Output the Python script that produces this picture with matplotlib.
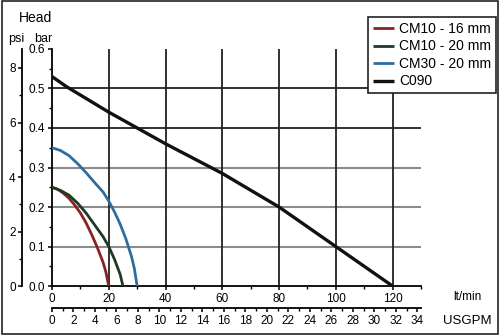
import matplotlib
matplotlib.use("Agg")
import matplotlib.pyplot as plt
from matplotlib.patches import Rectangle
from matplotlib.ticker import MultipleLocator

plt.rcParams['font.family'] = ['Liberation Sans', 'DejaVu Sans']

# Data (flow in lt/min, head in bar)
cm10_16_x = [0, 2, 4, 6, 8, 10, 12, 14, 16, 18, 19, 20]
cm10_16_y = [0.25, 0.245, 0.235, 0.222, 0.205, 0.185, 0.16, 0.13, 0.097, 0.06, 0.035, 0.0]
cm10_20_x = [0, 3, 6, 9, 12, 15, 18, 20, 22, 24, 25]
cm10_20_y = [0.25, 0.242, 0.23, 0.21, 0.185, 0.155, 0.125, 0.1, 0.068, 0.03, 0.0]
cm30_20_x = [0, 3, 6, 9, 12, 15, 18, 20, 22, 24, 26, 28, 29, 30]
cm30_20_y = [0.35, 0.343, 0.33, 0.31, 0.287, 0.262, 0.238, 0.215, 0.188, 0.157, 0.12, 0.075, 0.045, 0.0]
c090_x = [0, 5, 20, 30, 40, 60, 80, 100, 120]
c090_y = [0.53, 0.505, 0.44, 0.40, 0.36, 0.285, 0.20, 0.10, 0.0]

series_names = ["CM10 - 16 mm", "CM10 - 20 mm", "CM30 - 20 mm", "C090"]
series_colors = ["#8a2222", "#1e3a22", "#2e6e9e", "#111111"]

x_ticks = [0, 20, 40, 60, 80, 100, 120]
bar_ticks = [0.0, 0.1, 0.2, 0.3, 0.4, 0.5, 0.6]
psi_ticks = [0, 2, 4, 6, 8]
gpm_ticks = list(range(0, 35, 2))

fig = plt.figure(figsize=(5, 3.35), dpi=100)
ax = fig.add_axes([0.104, 0.146, 0.738, 0.708])
ax.set_xlim(0, 130)
ax.set_ylim(0, 0.6)

# grid
for yv in [0.1, 0.2, 0.3]:
    ax.axhline(yv, color="#8c8c8c", lw=1.5, zorder=1)
for yv in [0.4, 0.5]:
    ax.axhline(yv, color="#222222", lw=1.3, zorder=1)
for xv in x_ticks[1:]:
    ax.axvline(xv, color="#222222", lw=1.3, zorder=1)

lines = []
for xs, ys, c, n, lw in [(cm10_16_x, cm10_16_y, series_colors[0], series_names[0], 2.0),
                         (cm10_20_x, cm10_20_y, series_colors[1], series_names[1], 2.0),
                         (cm30_20_x, cm30_20_y, series_colors[2], series_names[2], 2.0),
                         (c090_x, c090_y, series_colors[3], series_names[3], 2.4)]:
    l, = ax.plot(xs, ys, color=c, lw=lw, label=n, zorder=3, solid_capstyle='butt')
    lines.append(l)

for s in ['top', 'right']:
    ax.spines[s].set_visible(False)
ax.spines['left'].set_linewidth(1.3)
ax.spines['bottom'].set_linewidth(1.3)
ax.set_xticks(x_ticks)
ax.xaxis.set_minor_locator(MultipleLocator(10))
ax.set_yticks(bar_ticks)
ax.set_yticklabels([f"{v:.1f}" for v in bar_ticks])
ax.yaxis.set_minor_locator(MultipleLocator(0.05))
ax.tick_params(axis='both', labelsize=8.5, length=3, width=1.1, pad=2, direction='out')
ax.tick_params(which='minor', length=2, width=1)

# psi axis
ax2 = ax.twinx()
ax2.set_ylim(0, 0.6 * 14.5)
for s in ['top', 'right', 'bottom']:
    ax2.spines[s].set_visible(False)
ax2.spines['left'].set_position(('outward', 21.6))
ax2.spines['left'].set_linewidth(1.3)
ax2.yaxis.set_ticks_position('left')
ax2.yaxis.set_label_position('left')
ax2.set_yticks(psi_ticks)
ax2.yaxis.set_minor_locator(MultipleLocator(1))
ax2.tick_params(axis='y', labelsize=8.5, length=3, width=1.1, pad=1.5)
ax2.tick_params(which='minor', length=2, width=1)

# USGPM axis
ax3 = ax.twiny()
ax3.set_xlim(0, 130 / 3.785)
for s in ['top', 'right', 'left']:
    ax3.spines[s].set_visible(False)
ax3.spines['bottom'].set_position(('outward', 15.8))
ax3.spines['bottom'].set_linewidth(1.3)
ax3.xaxis.set_ticks_position('bottom')
ax3.xaxis.set_label_position('bottom')
ax3.set_xticks(gpm_ticks)
ax3.xaxis.set_minor_locator(MultipleLocator(1))
ax3.tick_params(axis='x', labelsize=8.5, length=3, width=1.1, pad=2)
ax3.tick_params(which='minor', length=2, width=1)

leg = ax.legend(handles=lines, loc='upper left', bbox_to_anchor=(0.736, 0.949),
                bbox_transform=fig.transFigure, fontsize=10, frameon=True, fancybox=False,
                edgecolor='#222222', handlelength=1.5, handletextpad=0.4,
                labelspacing=0.25, borderpad=0.35, borderaxespad=0, framealpha=1)
leg.get_frame().set_linewidth(1.2)
leg.set_zorder(5)

fig.text(0.072, 0.945, "Head", fontsize=10, ha='center', va='center')
fig.text(0.033, 0.885, "psi", fontsize=9, ha='center', va='center')
fig.text(0.086, 0.885, "bar", fontsize=9, ha='center', va='center')
fig.text(0.935, 0.113, "lt/min", fontsize=8.5, ha='center', va='center')
fig.text(0.935, 0.043, "USGPM", fontsize=9.5, ha='center', va='center')

fig.patches.append(Rectangle((0.004, 0.004), 0.992, 0.992, transform=fig.transFigure,
                             fill=False, edgecolor='#222222', lw=1.2))

fig.savefig("out.png", dpi=100)
